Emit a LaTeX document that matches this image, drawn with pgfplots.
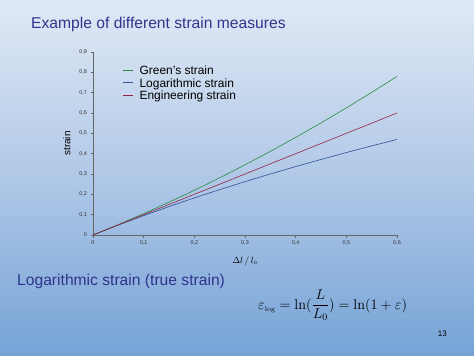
\documentclass[border=0pt]{standalone}
\usepackage{amsmath}
\usepackage{pgfplots}
\pgfplotsset{compat=1.18}
\usepackage[no-math]{fontspec}
\setmainfont{Liberation Sans}
\definecolor{bgtop}{RGB}{224,233,245}
\definecolor{bgmid}{RGB}{176,200,231}
\definecolor{bgbot}{RGB}{118,163,215}
\definecolor{titleblue}{RGB}{48,52,140}
\definecolor{cgreen}{RGB}{40,140,60}
\definecolor{cblue}{RGB}{45,80,150}
\definecolor{cred}{RGB}{150,35,65}
\begin{document}
\begin{tikzpicture}[x=1bp,y=1bp]
\shade[top color=bgtop, bottom color=bgbot, middle color=bgmid] (0,0) rectangle (474,355);
\node[anchor=base west, text=titleblue, font=\fontsize{15.7}{17}\selectfont, inner sep=0] at (31,327) {Example of different strain measures};
\node[anchor=base west, text=titleblue, font=\fontsize{15.7}{17}\selectfont, inner sep=0] at (17,70) {Logarithmic strain (true strain)};
\node[anchor=base east, font=\fontsize{8}{9}\selectfont, inner sep=0] at (447,19) {13};
\node[anchor=base west, inner sep=0, font=\fontsize{14.4}{16}\selectfont] at (258,46) {$\varepsilon_{\scriptscriptstyle\mathrm{log}} = \ln(\dfrac{L}{L_0}) = \ln(1+\varepsilon)$};
\begin{axis}[
  at={(93bp,120bp)}, anchor=south west,
  scale only axis, width=304bp, height=183bp,
  xmin=0, xmax=0.6, ymin=0, ymax=0.9,
  axis lines=left, axis line style={draw=black!60, -},
  xtick={0,0.1,...,0.6}, ytick={0,0.1,...,0.9},
  tick style={black!60, thin},
  tick align=outside, major tick length=2.5bp,
  ticklabel style={font=\fontsize{5.5}{6}\selectfont, text=black!80},
  /pgf/number format/.cd, use comma, fixed, precision=1, assume math mode=true,
  /pgfplots/.cd,
  xlabel={$\Delta l\,/\,l_{\scriptscriptstyle 0}$},
  xlabel style={font=\fontsize{9.5}{10}\selectfont, yshift=-4bp},
  ylabel={strain},
  ylabel style={font=\fontsize{10}{11}\selectfont, yshift=2bp},
  legend style={draw=none, fill=none, at={(0.098,0.925)}, anchor=north west,
    font=\fontsize{12}{10}\selectfont, row sep=0pt, inner sep=0pt,
    nodes={text height=8bp, text depth=2.5bp, inner sep=1bp},
    /tikz/every odd column/.append style={column sep=5bp}},
  legend cell align=left,
  legend image code/.code={\draw[#1] (0bp,2bp) -- (10bp,2bp);},
]
\addplot[cgreen, semithick] coordinates {(0,0) (0.05,0.05125) (0.1,0.105) (0.15,0.16125) (0.2,0.22) (0.25,0.28125) (0.3,0.345) (0.35,0.41125) (0.4,0.48) (0.45,0.55125) (0.5,0.625) (0.55,0.70125) (0.6,0.78)};
\addlegendentry{Green's strain}
\addplot[cblue, semithick] coordinates {(0,0) (0.05,0.04879) (0.1,0.09531) (0.15,0.13976) (0.2,0.18232) (0.25,0.22314) (0.3,0.26236) (0.35,0.30010) (0.4,0.33647) (0.45,0.37156) (0.5,0.40547) (0.55,0.43825) (0.6,0.47000)};
\addlegendentry{Logarithmic strain}
\addplot[cred, semithick] coordinates {(0,0) (0.6,0.6)};
\addlegendentry{Engineering strain}
\end{axis}
\end{tikzpicture}
\end{document}
